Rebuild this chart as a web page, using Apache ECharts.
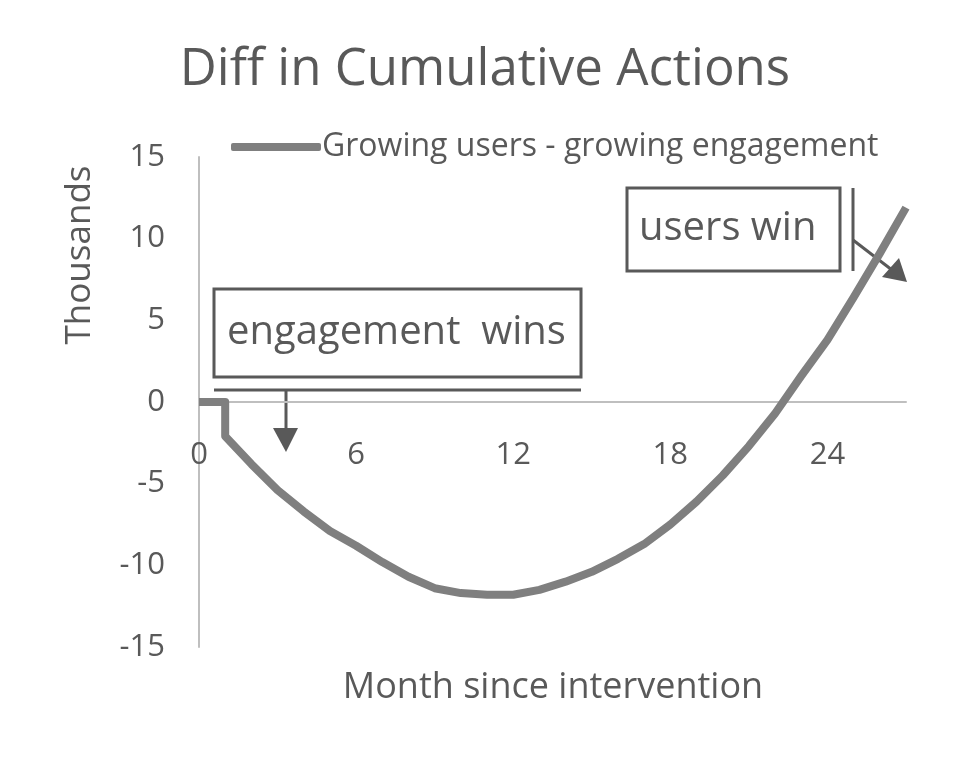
<!DOCTYPE html>
<html>
<head>
<meta charset="utf-8">
<script src="https://cdn.jsdelivr.net/npm/echarts@6/dist/echarts.min.js"></script>
<style>
  html, body { margin: 0; padding: 0; background: #fff; }
  #chart { width: 970px; height: 762px; }
</style>
</head>
<body>
<div id="chart"></div>
<script>
// data (thousands)
var months = [0, 1, 1, 2, 3, 4, 5, 6, 7, 8, 9, 10, 11, 12, 13, 14, 15, 16, 17, 18, 19, 20, 21, 22, 23, 24, 25, 26, 27];
var diffValues = [0, 0, -2.1, -3.8, -5.4, -6.7, -7.9, -8.8, -9.8, -10.7, -11.4, -11.7, -11.8, -11.8, -11.5, -11.0, -10.4, -9.6, -8.7, -7.5, -6.1, -4.5, -2.7, -0.7, 1.6, 3.8, 6.4, 9.1, 11.9];
var seriesName = 'Growing users - growing engagement';
var xTicks = [0, 6, 12, 18, 24];
var yTicks = [-15, -10, -5, 0, 5, 10, 15];

var font = '"Open Sans", sans-serif';
var textGray = '#595959';
var boxGray = '#595959';

var points = [];
for (var i = 0; i < months.length; i++) {
    points.push([months[i], diffValues[i]]);
}

var chart = echarts.init(document.getElementById('chart'));
var option = {
    animation: false,
    backgroundColor: '#fff',
    textStyle: { fontFamily: font },
    title: {
        text: 'Diff in Cumulative Actions',
        left: 'center',
        top: 40,
        textStyle: { color: textGray, fontSize: 51, fontWeight: 'normal', fontFamily: font }
    },
    legend: {
        left: 226,
        top: 126,
        itemWidth: 90,
        itemHeight: 8,
        itemGap: 0,
        icon: 'roundRect',
        textStyle: { color: textGray, fontSize: 32, fontFamily: font, padding: [0, 0, 0, -4] },
        data: [seriesName]
    },
    grid: { left: 199, right: 64, top: 157, bottom: 115 },
    xAxis: {
        type: 'value',
        min: 0,
        max: 27,
        interval: 6,
        position: 'bottom',
        offset: -245,
        axisLine: { onZero: false, lineStyle: { color: '#bfbfbf', width: 2 } },
        axisTick: { show: false },
        splitLine: { show: false },
        axisLabel: {
            color: textGray, fontSize: 31, margin: 38, showMaxLabel: false,
            formatter: function (v) { return xTicks.indexOf(v) >= 0 ? String(v) : ''; }
        }
    },
    yAxis: {
        type: 'value',
        min: -15,
        max: 15,
        interval: 5,
        axisLine: { show: true, lineStyle: { color: '#bfbfbf', width: 2 } },
        axisTick: { show: false },
        splitLine: { show: false },
        axisLabel: {
            color: textGray, fontSize: 31, margin: 34,
            formatter: function (v) { return yTicks.indexOf(v) >= 0 ? String(v) : ''; }
        }
    },
    series: [{
        name: seriesName,
        type: 'line',
        data: points,
        showSymbol: false,
        symbol: 'none',
        lineStyle: { color: '#7f7f7f', width: 8, join: 'round' },
        itemStyle: { color: '#7f7f7f' }
    }],
    graphic: [
        // axis titles
        {
            type: 'text', x: 80, y: 255, rotation: Math.PI / 2,
            style: { text: 'Thousands', fill: textGray, font: '35px ' + font, textAlign: 'center', textVerticalAlign: 'middle' }
        },
        {
            type: 'text', x: 553, y: 688,
            style: { text: 'Month since intervention', fill: textGray, font: '36px ' + font, textAlign: 'center', textVerticalAlign: 'middle' }
        },
        // "engagement wins" callout
        {
            type: 'rect', shape: { x: 214, y: 289, width: 367, height: 88 },
            style: { fill: '#fff', stroke: boxGray, lineWidth: 3 }
        },
        {
            type: 'text', x: 227, y: 333,
            style: { text: 'engagement  wins', fill: textGray, font: '40px ' + font, textVerticalAlign: 'middle' }
        },
        {
            type: 'line', shape: { x1: 214, y1: 390, x2: 581, y2: 390 },
            style: { stroke: boxGray, lineWidth: 3 }
        },
        {
            type: 'line', shape: { x1: 286, y1: 390, x2: 286, y2: 432 },
            style: { stroke: boxGray, lineWidth: 3 }
        },
        {
            type: 'polygon', shape: { points: [[273, 428], [298, 428], [286, 452]] },
            style: { fill: boxGray }
        },
        // "users win" callout
        {
            type: 'rect', shape: { x: 627, y: 188, width: 213, height: 83 },
            style: { fill: '#fff', stroke: boxGray, lineWidth: 3 }
        },
        {
            type: 'text', x: 639, y: 229,
            style: { text: 'users win', fill: textGray, font: '40px ' + font, textVerticalAlign: 'middle' }
        },
        {
            type: 'line', shape: { x1: 853, y1: 188, x2: 853, y2: 271 },
            style: { stroke: boxGray, lineWidth: 3 }
        },
        {
            type: 'line', shape: { x1: 853, y1: 240, x2: 892, y2: 270 },
            style: { stroke: boxGray, lineWidth: 3 }
        },
        {
            type: 'polygon', shape: { points: [[882, 277], [899, 258], [907, 282]] },
            style: { fill: boxGray }
        }
    ]
};
chart.setOption(option);
</script>
</body>
</html>
